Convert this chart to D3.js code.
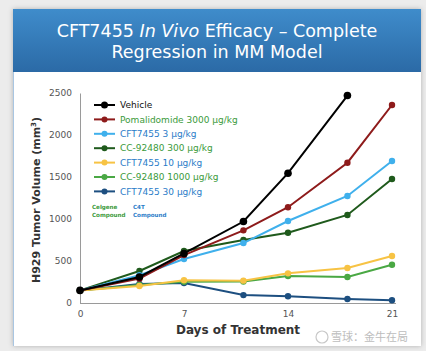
<!doctype html>
<html>
<head>
<meta charset="UTF-8">
<title>CFT7455 In Vivo Efficacy</title>
<style>
	body { margin: 0; background: #ececec; }
	svg { display: block; }
</style>
</head>
<body>
<script src="https://cdn.jsdelivr.net/npm/d3@7"></script>
<script>
	var days = [0, 4, 7, 11, 14, 18, 21];
	var seriesNames = ['Vehicle', 'Pomalidomide 3000 \u03bcg/kg', 'CFT7455 3 \u03bcg/kg', 'CC-92480 300 \u03bcg/kg',
		'CFT7455 10 \u03bcg/kg', 'CC-92480 1000 \u03bcg/kg', 'CFT7455 30 \u03bcg/kg'];
	var vehicle = [150, 310, 590, 970, 1545, 2470];
	var pomalidomide = [150, 290, 570, 865, 1140, 1670, 2357];
	var cft3 = [150, 330, 524, 714, 976, 1274, 1690];
	var cc300 = [150, 381, 619, 750, 837, 1048, 1476];
	var cft10 = [150, 202, 270, 266, 353, 417, 560];
	var cc1000 = [150, 215, 252, 255, 321, 310, 456];
	var cft30 = [150, 226, 238, 94, 80, 48, 32];
	var yTicks = [0, 500, 1000, 1500, 2000, 2500];
	var xTicks = [0, 7, 14, 21];

	var lineColors = ['#000000', '#8e1b1b', '#3fb0ec', '#1f5a1c', '#f7c344', '#4aa844', '#1d4f80'];
	var textColors = ['#111111', '#3a9a3a', '#2a7cc8', '#3a9a3a', '#2a7cc8', '#3a9a3a', '#2a7cc8'];
	var allValues = [vehicle, pomalidomide, cft3, cc300, cft10, cc1000, cft30];

	var w = 426, h = 351;
	var svg = d3.select('body').append('svg').attr('width', w).attr('height', h);

	var defs = svg.append('defs');
	var grad = defs.append('linearGradient').attr('id', 'hdr').attr('x1', 0).attr('y1', 0).attr('x2', 0).attr('y2', 1);
	grad.append('stop').attr('offset', '0%').attr('stop-color', '#3f8ccb');
	grad.append('stop').attr('offset', '100%').attr('stop-color', '#2b6aa6');
	var blur = defs.append('filter').attr('id', 'shadow').attr('x', '-5%').attr('y', '-5%').attr('width', '110%').attr('height', '110%');
	blur.append('feDropShadow').attr('dx', 0).attr('dy', 0).attr('stdDeviation', 2.5).attr('flood-color', '#000').attr('flood-opacity', 0.25);

	// card + header
	svg.append('rect').attr('x', 13).attr('y', 9).attr('width', 408).attr('height', 337)
		.attr('fill', '#fff').attr('filter', 'url(#shadow)');
	svg.append('rect').attr('x', 13).attr('y', 9).attr('width', 408).attr('height', 63).attr('fill', 'url(#hdr)');
	svg.append('line').attr('x1', 13.5).attr('x2', 13.5).attr('y1', 72).attr('y2', 346).attr('stroke', '#a9c6e2');

	var title = svg.append('text').attr('text-anchor', 'middle').attr('fill', '#fff')
		.style('font-family', 'DejaVu Sans').style('font-size', '17.5px');
	var t1 = title.append('tspan').attr('x', 217).attr('y', 37);
	t1.append('tspan').text('CFT7455 ');
	t1.append('tspan').style('font-style', 'italic').text('In Vivo');
	t1.append('tspan').text(' Efficacy \u2013 Complete');
	title.append('tspan').attr('x', 217).attr('y', 58).text('Regression in MM Model');

	var x = d3.scaleLinear().domain([0, 21]).range([80, 392]);
	var y = d3.scaleLinear().domain([0, 2500]).range([303, 93]);

	var gx = svg.append('g').attr('transform', 'translate(0,303)')
		.call(d3.axisBottom(x).tickValues(xTicks).tickSize(0).tickPadding(8).tickFormat(d3.format('d')));
	gx.select('.domain').attr('stroke', '#9a9a9a').attr('d', 'M80,0.5H396');
	gx.selectAll('text').attr('fill', '#555').style('font-family', 'DejaVu Sans').style('font-size', '9px');

	var gy = svg.append('g').attr('transform', 'translate(80,0)')
		.call(d3.axisLeft(y).tickValues(yTicks).tickSize(0).tickPadding(8).tickFormat(d3.format('d')));
	gy.select('.domain').attr('stroke', '#9a9a9a');
	gy.selectAll('text').attr('fill', '#555').style('font-family', 'DejaVu Sans').style('font-size', '9px');

	svg.append('text').attr('x', 238).attr('y', 334).attr('text-anchor', 'middle')
		.attr('fill', '#333').style('font-family', 'DejaVu Sans').style('font-weight', 'bold').style('font-size', '12px')
		.text('Days of Treatment');

	var yt = svg.append('text').attr('transform', 'translate(40,200) rotate(-90)').attr('text-anchor', 'middle')
		.attr('fill', '#333').style('font-family', 'DejaVu Sans').style('font-weight', 'bold').style('font-size', '11px');
	yt.append('tspan').text('H929 Tumor Volume (mm');
	yt.append('tspan').attr('dy', -4).style('font-size', '7px').text('3');
	yt.append('tspan').attr('dy', 4).text(')');

	var line = d3.line().x(function(d) { return x(d.day); }).y(function(d) { return y(d.v); });

	// draw bottom series first so vehicle stays on top
	for (var s = allValues.length - 1; s >= 0; s--) {
		var pts = allValues[s].map(function(v, i) { return { day: days[i], v: v }; });
		var g = svg.append('g');
		g.append('path').attr('d', line(pts)).attr('fill', 'none')
			.attr('stroke', lineColors[s]).attr('stroke-width', 2);
		g.selectAll('circle').data(pts).enter().append('circle')
			.attr('cx', function(d) { return x(d.day); })
			.attr('cy', function(d) { return y(d.v); })
			.attr('r', s === 0 ? 3.8 : 3.2)
			.attr('fill', lineColors[s]);
	}

	// legend
	var lg = svg.append('g').selectAll('g').data(seriesNames).enter().append('g')
		.attr('transform', function(d, i) { return 'translate(94,' + (105 + i * 14.4) + ')'; });
	lg.append('line').attr('x1', 0).attr('x2', 21)
		.attr('stroke', function(d, i) { return lineColors[i]; }).attr('stroke-width', 2);
	lg.append('circle').attr('cx', 10.5).attr('r', function(d, i) { return i === 0 ? 3.5 : 3; })
		.attr('fill', function(d, i) { return lineColors[i]; });
	lg.append('text').attr('x', 26).attr('y', 3.2)
		.attr('fill', function(d, i) { return textColors[i]; })
		.style('font-family', 'DejaVu Sans').style('font-size', '9px')
		.text(function(d) { return d; });

	var notes = [['Celgene', 'Compound', 92, '#3a9a3a'], ['C4T', 'Compound', 133, '#2a7cc8']];
	notes.forEach(function(n) {
		var t = svg.append('text').attr('fill', n[3]).style('font-family', 'DejaVu Sans')
			.style('font-weight', 'bold').style('font-size', '5.6px');
		t.append('tspan').attr('x', n[2]).attr('y', 209).text(n[0]);
		t.append('tspan').attr('x', n[2]).attr('y', 217).text(n[1]);
	});

	// watermark
	svg.append('circle').attr('cx', 322).attr('cy', 337).attr('r', 6).attr('fill', 'none')
		.attr('stroke', '#c8c8c8').attr('stroke-width', 1.2);
	svg.append('text').attr('x', 331).attr('y', 341).attr('fill', '#bdbdbd')
		.style('font-family', 'Noto Sans CJK SC').style('font-size', '11px')
		.text('\u96ea\u7403\uff1a\u91d1\u725b\u5728\u5c40');
</script>
</body>
</html>
